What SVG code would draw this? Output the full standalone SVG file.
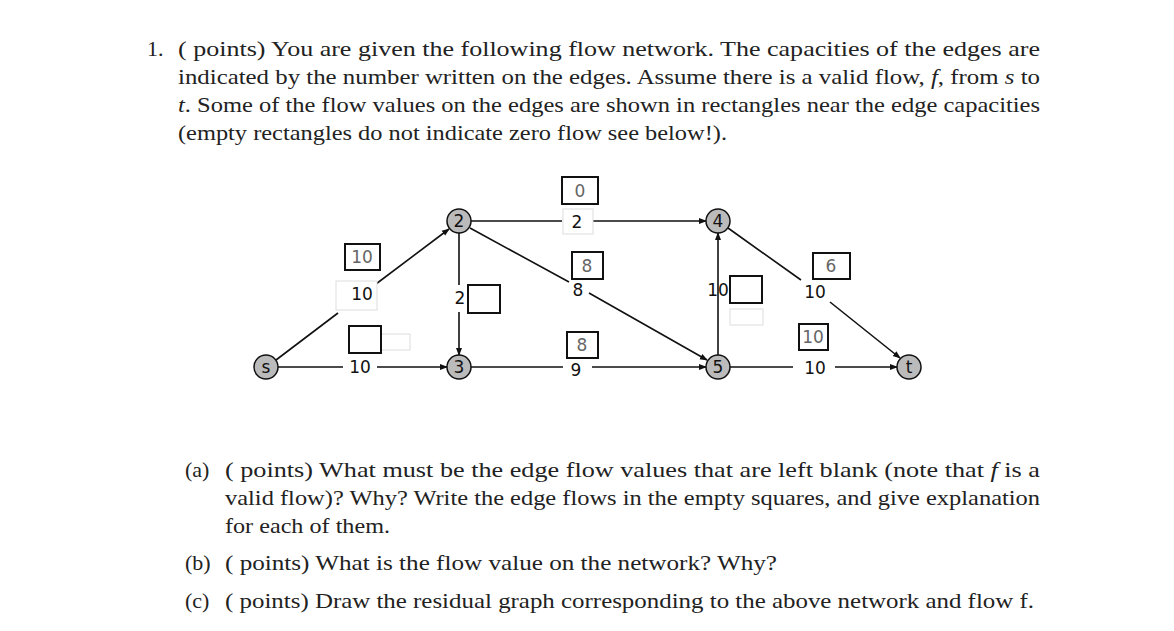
<svg xmlns="http://www.w3.org/2000/svg" width="1174" height="631" viewBox="0 0 1174 631">
<style>
.t{font-family:"Liberation Serif","DejaVu Serif",serif;font-size:22px;fill:#222}
.g{font-family:"DejaVu Sans",sans-serif;font-size:17px;fill:#111;text-anchor:middle}
.gg{font-family:"DejaVu Sans",sans-serif;font-size:17px;fill:#666;text-anchor:middle}
.n{fill:#bbb;stroke:#111;stroke-width:1.5}
.b{fill:#fff;stroke:#111;stroke-width:2}
.f{fill:#fff;stroke:#ddd;stroke-width:1}
.e{stroke:#111;stroke-width:1.6;fill:none}
</style>
<defs><marker id="a" markerWidth="8" markerHeight="8" refX="7" refY="4" orient="auto" markerUnits="userSpaceOnUse"><path d="M0,1 L8,4 L0,7 Z" fill="#111"/></marker></defs>
<rect width="1174" height="631" fill="#fff"/>
<g id="text">
<text class="t" x="147" y="56">1.</text>
<text class="t" x="178" y="56" textLength="862" lengthAdjust="spacingAndGlyphs">( points) You are given the following flow network.  The capacities of the edges are</text>
<text class="t" x="178" y="84" textLength="862" lengthAdjust="spacingAndGlyphs">indicated by the number written on the edges. Assume there is a valid flow, <tspan font-style="italic">f</tspan>, from <tspan font-style="italic">s</tspan> to</text>
<text class="t" x="178" y="112" textLength="862" lengthAdjust="spacingAndGlyphs"><tspan font-style="italic">t</tspan>. Some of the flow values on the edges are shown in rectangles near the edge capacities</text>
<text class="t" x="178" y="140" textLength="549" lengthAdjust="spacingAndGlyphs">(empty rectangles do not indicate zero flow see below!).</text>
<text class="t" x="185" y="477">(a)</text>
<text class="t" x="225" y="477" textLength="815" lengthAdjust="spacingAndGlyphs">( points) What must be the edge flow values that are left blank (note that <tspan font-style="italic">f</tspan> is a</text>
<text class="t" x="225" y="505" textLength="815" lengthAdjust="spacingAndGlyphs">valid flow)? Why? Write the edge flows in the empty squares, and give explanation</text>
<text class="t" x="225" y="533" textLength="165" lengthAdjust="spacingAndGlyphs">for each of them.</text>
<text class="t" x="185" y="570">(b)</text>
<text class="t" x="225" y="570" textLength="552" lengthAdjust="spacingAndGlyphs">( points) What is the flow value on the network? Why?</text>
<text class="t" x="185" y="608">(c)</text>
<text class="t" x="225" y="608" textLength="809" lengthAdjust="spacingAndGlyphs">( points) Draw the residual graph corresponding to the above network and flow f.</text>
</g>
<g id="edges">
<path class="e" d="M276,360 L338,313 M372,287 L449,229" marker-end="url(#a)"/>
<path class="e" d="M278,367 L343,367 M377,367 L447,367" marker-end="url(#a)"/>
<path class="e" d="M459,233 L459,285 M459,312 L459,355" marker-end="url(#a)"/>
<path class="e" d="M471,221 L562,221 M592,221 L706,221" marker-end="url(#a)"/>
<path class="e" d="M470,228 L569,282 M589,293 L707,360" marker-end="url(#a)"/>
<path class="e" d="M471,367 L563,367 M592,367 L706,367" marker-end="url(#a)"/>
<path class="e" d="M718,355 L718,233" marker-end="url(#a)"/>
<path class="e" d="M728,228 L801,280 M830,302 L900,358" marker-end="url(#a)"/>
<path class="e" d="M730,367 L793,367 M835,367 L897,367" marker-end="url(#a)"/>
</g>
<g id="labels">
<rect class="f" x="563" y="209" width="30" height="25"/><text class="g" x="577" y="228">2</text>
<rect class="b" x="562" y="177" width="36" height="27"/><text class="gg" x="580" y="197">0</text>
<rect class="f" x="336" y="281" width="41" height="29"/><text class="g" x="362" y="300">10</text>
<rect class="b" x="345" y="244" width="35" height="26"/><text class="gg" x="362" y="263">10</text>
<rect class="f" x="381" y="334" width="29" height="16"/>
<rect class="b" x="349" y="326" width="32" height="27"/>
<text class="g" x="360" y="373">10</text>
<text class="g" x="460" y="304">2</text>
<rect class="b" x="468" y="285" width="32" height="28"/>
<rect class="b" x="572" y="252" width="31" height="27"/><text class="gg" x="587" y="272">8</text>
<text class="g" x="578" y="296">8</text>
<rect class="b" x="567" y="332" width="31" height="26"/><text class="gg" x="582" y="351">8</text>
<text class="g" x="576" y="376">9</text>
<rect class="f" x="730" y="309" width="33" height="16"/>
<text class="g" x="718" y="296">10</text>
<rect class="b" x="730" y="276" width="32" height="27"/>
<rect class="b" x="813" y="253" width="37" height="26"/><text class="gg" x="831" y="272">6</text>
<text class="g" x="815" y="298">10</text>
<rect class="b" x="799" y="324" width="29" height="26"/><text class="gg" x="813" y="343">10</text>
<text class="g" x="815" y="374">10</text>
</g>
<g id="node-s"><circle class="n" cx="266" cy="367" r="12"/><text class="g" x="266" y="373" font-size="14">s</text></g>
<g id="node-2"><circle class="n" cx="459" cy="221" r="12"/><text class="g" x="459" y="227" font-size="15">2</text></g>
<g id="node-3"><circle class="n" cx="459" cy="367" r="12"/><text class="g" x="459" y="373" font-size="15">3</text></g>
<g id="node-4"><circle class="n" cx="718" cy="221" r="12"/><text class="g" x="718" y="227" font-size="15">4</text></g>
<g id="node-5"><circle class="n" cx="718" cy="367" r="12"/><text class="g" x="718" y="373" font-size="15">5</text></g>
<g id="node-t"><circle class="n" cx="909" cy="367" r="12"/><text class="g" x="909" y="373" font-size="14">t</text></g>
</svg>
